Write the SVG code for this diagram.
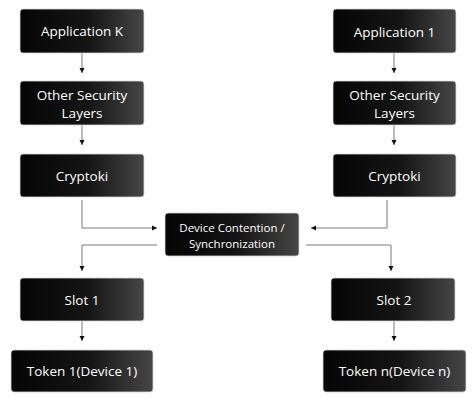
<svg xmlns="http://www.w3.org/2000/svg" width="474" height="407" viewBox="0 0 474 407">
<defs>
<linearGradient id="g" x1="0" y1="0" x2="1" y2="0">
<stop offset="0" stop-color="#050505"/>
<stop offset="0.55" stop-color="#151515"/>
<stop offset="1" stop-color="#464646"/>
</linearGradient>
<marker id="ah" viewBox="0 0 6 6" refX="5" refY="3" markerWidth="6" markerHeight="6" markerUnits="userSpaceOnUse" orient="auto">
<path d="M0,0.5 L5,3 L0,5.5 Z" fill="#111"/>
</marker>
<style>
.box{fill:url(#g);stroke:#d8d8d8;stroke-width:0.8}
.t{fill:#fff;font-family:"Open Sans","DejaVu Sans",sans-serif;font-size:13.5px;text-anchor:middle}
.s{font-size:11.5px}
.c{fill:none;stroke:#7a7a7a;stroke-width:1}
.a{marker-end:url(#ah)}
</style>
</defs>
<rect width="474" height="407" fill="#fff"/>
<g id="connectors">
<path class="c a" d="M82,53 V73"/>
<path class="c a" d="M82,125 V145"/>
<path class="c a" d="M394,53 V73"/>
<path class="c a" d="M394,125 V145"/>
<path class="c a" d="M82,200 V228 H157"/>
<path class="c a" d="M387,200 V228 H311"/>
<path class="c a" d="M157,245 H82 V271"/>
<path class="c a" d="M306,245 H391 V271"/>
<path class="c a" d="M82,321 V341"/>
<path class="c a" d="M394,321 V341"/>
</g>
<g id="appK"><rect class="box" x="20" y="9" width="124" height="44" rx="3"/><text class="t" x="82" y="36">Application K</text></g>
<g id="oslK"><rect class="box" x="20" y="81" width="124" height="44" rx="3"/><text class="t" x="82" y="99.5">Other Security</text><text class="t" x="82" y="117.5">Layers</text></g>
<g id="cryptoK"><rect class="box" x="20" y="154" width="124" height="43" rx="3"/><text class="t" x="82" y="180.5">Cryptoki</text></g>
<g id="app1"><rect class="box" x="333" y="9" width="123" height="44" rx="3"/><text class="t" x="394.5" y="37">Application 1</text></g>
<g id="osl1"><rect class="box" x="333" y="81" width="123" height="44" rx="3"/><text class="t" x="394.5" y="99.5">Other Security</text><text class="t" x="394.5" y="117.5">Layers</text></g>
<g id="crypto1"><rect class="box" x="333" y="154" width="123" height="43" rx="3"/><text class="t" x="394.5" y="180.5">Cryptoki</text></g>
<g id="device"><rect class="box" x="165" y="213" width="134" height="43" rx="3"/><text class="t s" x="232" y="231.5">Device Contention /</text><text class="t s" x="232" y="247.5">Synchronization</text></g>
<g id="slot1"><rect class="box" x="20" y="278" width="124" height="43" rx="3"/><text class="t" x="82" y="304.5">Slot 1</text></g>
<g id="slot2"><rect class="box" x="331" y="278" width="124" height="43" rx="3"/><text class="t" x="394" y="304.5">Slot 2</text></g>
<g id="token1"><rect class="box" x="11" y="350" width="142" height="42" rx="3"/><text class="t" x="82" y="376">Token 1(Device 1)</text></g>
<g id="tokenn"><rect class="box" x="323" y="350" width="143" height="42" rx="3"/><text class="t" x="394.5" y="376">Token n(Device n)</text></g>
</svg>
